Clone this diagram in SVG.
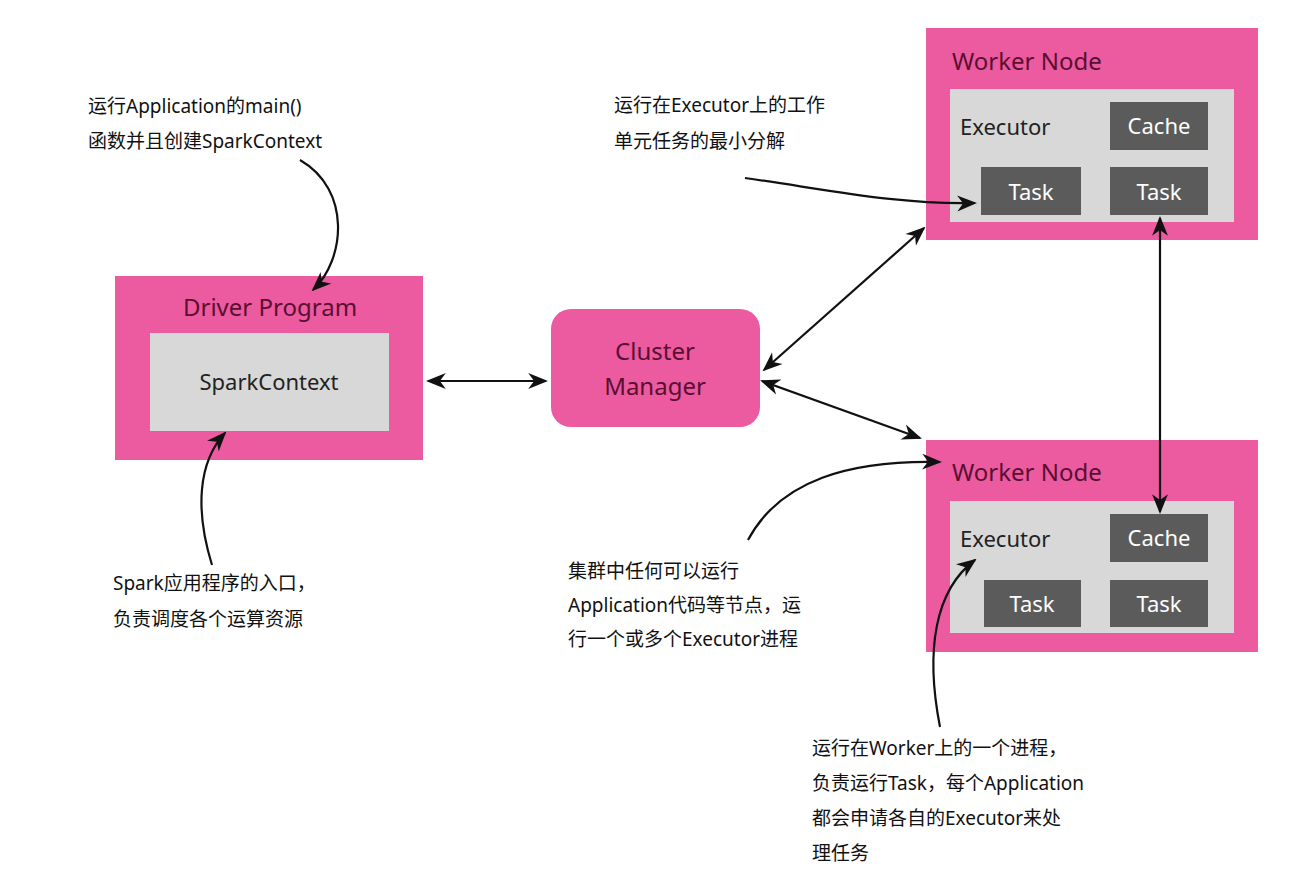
<svg xmlns="http://www.w3.org/2000/svg" width="1299" height="879" viewBox="0 0 1299 879">
<defs>
<marker id="a" viewBox="0 0 10 10" refX="9" refY="5" markerWidth="9" markerHeight="9" orient="auto-start-reverse"><path d="M0,1 L10,5 L0,9 L3,5 z" fill="#111"/></marker>
<style>
.pk{fill:#ec5aa0}.gr{fill:#d8d8d8}.dk{fill:#5b5b5b}
.t{font-family:"Comic Sans MS","Noto Sans","Noto Sans CJK SC",sans-serif;font-size:22px}
.ti{fill:#5a0f30;font-size:24px}
.w{fill:#fff;text-anchor:middle}
.n{font-family:"Noto Sans","Noto Sans CJK SC",sans-serif;font-size:19px;fill:#111}
.c{fill:none;stroke:#111;stroke-width:2.2;marker-end:url(#a)}
.d{marker-start:url(#a)}
</style>
</defs>
<rect width="1299" height="879" fill="#fff"/>
<g id="driver">
<rect class="pk" x="115" y="276" width="308" height="184"/>
<rect class="gr" x="150" y="333" width="239" height="98"/>
<text class="t ti" x="183" y="316">Driver  Program</text>
<text class="t" x="269" y="390" text-anchor="middle" fill="#222">SparkContext</text>
</g>
<g id="cluster">
<rect class="pk" x="551" y="309" width="209" height="118" rx="20"/>
<text class="t ti" x="655" y="360" text-anchor="middle" font-size="22">Cluster</text>
<text class="t ti" x="655" y="395" text-anchor="middle" font-size="22">Manager</text>
</g>
<g id="worker1">
<rect class="pk" x="926" y="28" width="332" height="212"/>
<rect class="gr" x="950" y="89" width="284" height="133"/>
<text class="t ti" x="952" y="70">Worker Node</text>
<text class="t" x="960" y="135" fill="#222">Executor</text>
<rect class="dk" x="1110" y="102" width="98" height="48"/>
<text class="t w" x="1159" y="134">Cache</text>
<rect class="dk" x="981" y="167" width="100" height="48"/>
<text class="t w" x="1031" y="200">Task</text>
<rect class="dk" x="1110" y="167" width="98" height="48"/>
<text class="t w" x="1159" y="200">Task</text>
</g>
<g id="worker2">
<rect class="pk" x="926" y="440" width="332" height="212"/>
<rect class="gr" x="950" y="501" width="284" height="132"/>
<text class="t ti" x="952" y="481">Worker Node</text>
<text class="t" x="960" y="547" fill="#222">Executor</text>
<rect class="dk" x="1110" y="514" width="98" height="48"/>
<text class="t w" x="1159" y="546">Cache</text>
<rect class="dk" x="984" y="580" width="97" height="47"/>
<text class="t w" x="1032" y="612">Task</text>
<rect class="dk" x="1110" y="580" width="98" height="47"/>
<text class="t w" x="1159" y="612">Task</text>
</g>
<g id="connectors">
<path class="c d" d="M428,381 L546,381"/>
<path class="c d" d="M764,370 L924,228"/>
<path class="c d" d="M762,381 L920,438"/>
<path class="c d" d="M1160,218 L1160,512"/>
<path class="c" d="M300,160 C352,190 345,260 313,290"/>
<path class="c" d="M212,565 C195,510 198,462 225,433"/>
<path class="c" d="M745,178 C830,190 900,205 975,203"/>
<path class="c" d="M748,540 C780,480 850,460 940,462"/>
<path class="c" d="M940,727 C925,650 935,590 975,560"/>
</g>
<g id="notes">
<text class="n" x="88" y="113">运行Application的main()</text>
<text class="n" x="88" y="148">函数并且创建SparkContext</text>
<text class="n" x="614" y="112">运行在Executor上的工作</text>
<text class="n" x="614" y="148">单元任务的最小分解</text>
<text class="n" x="113" y="590">Spark应用程序的入口，</text>
<text class="n" x="113" y="626">负责调度各个运算资源</text>
<text class="n" x="568" y="578">集群中任何可以运行</text>
<text class="n" x="568" y="612">Application代码等节点，运</text>
<text class="n" x="568" y="646">行一个或多个Executor进程</text>
<text class="n" x="812" y="755">运行在Worker上的一个进程，</text>
<text class="n" x="812" y="790">负责运行Task，每个Application</text>
<text class="n" x="812" y="825">都会申请各自的Executor来处</text>
<text class="n" x="812" y="860">理任务</text>
</g>
</svg>
